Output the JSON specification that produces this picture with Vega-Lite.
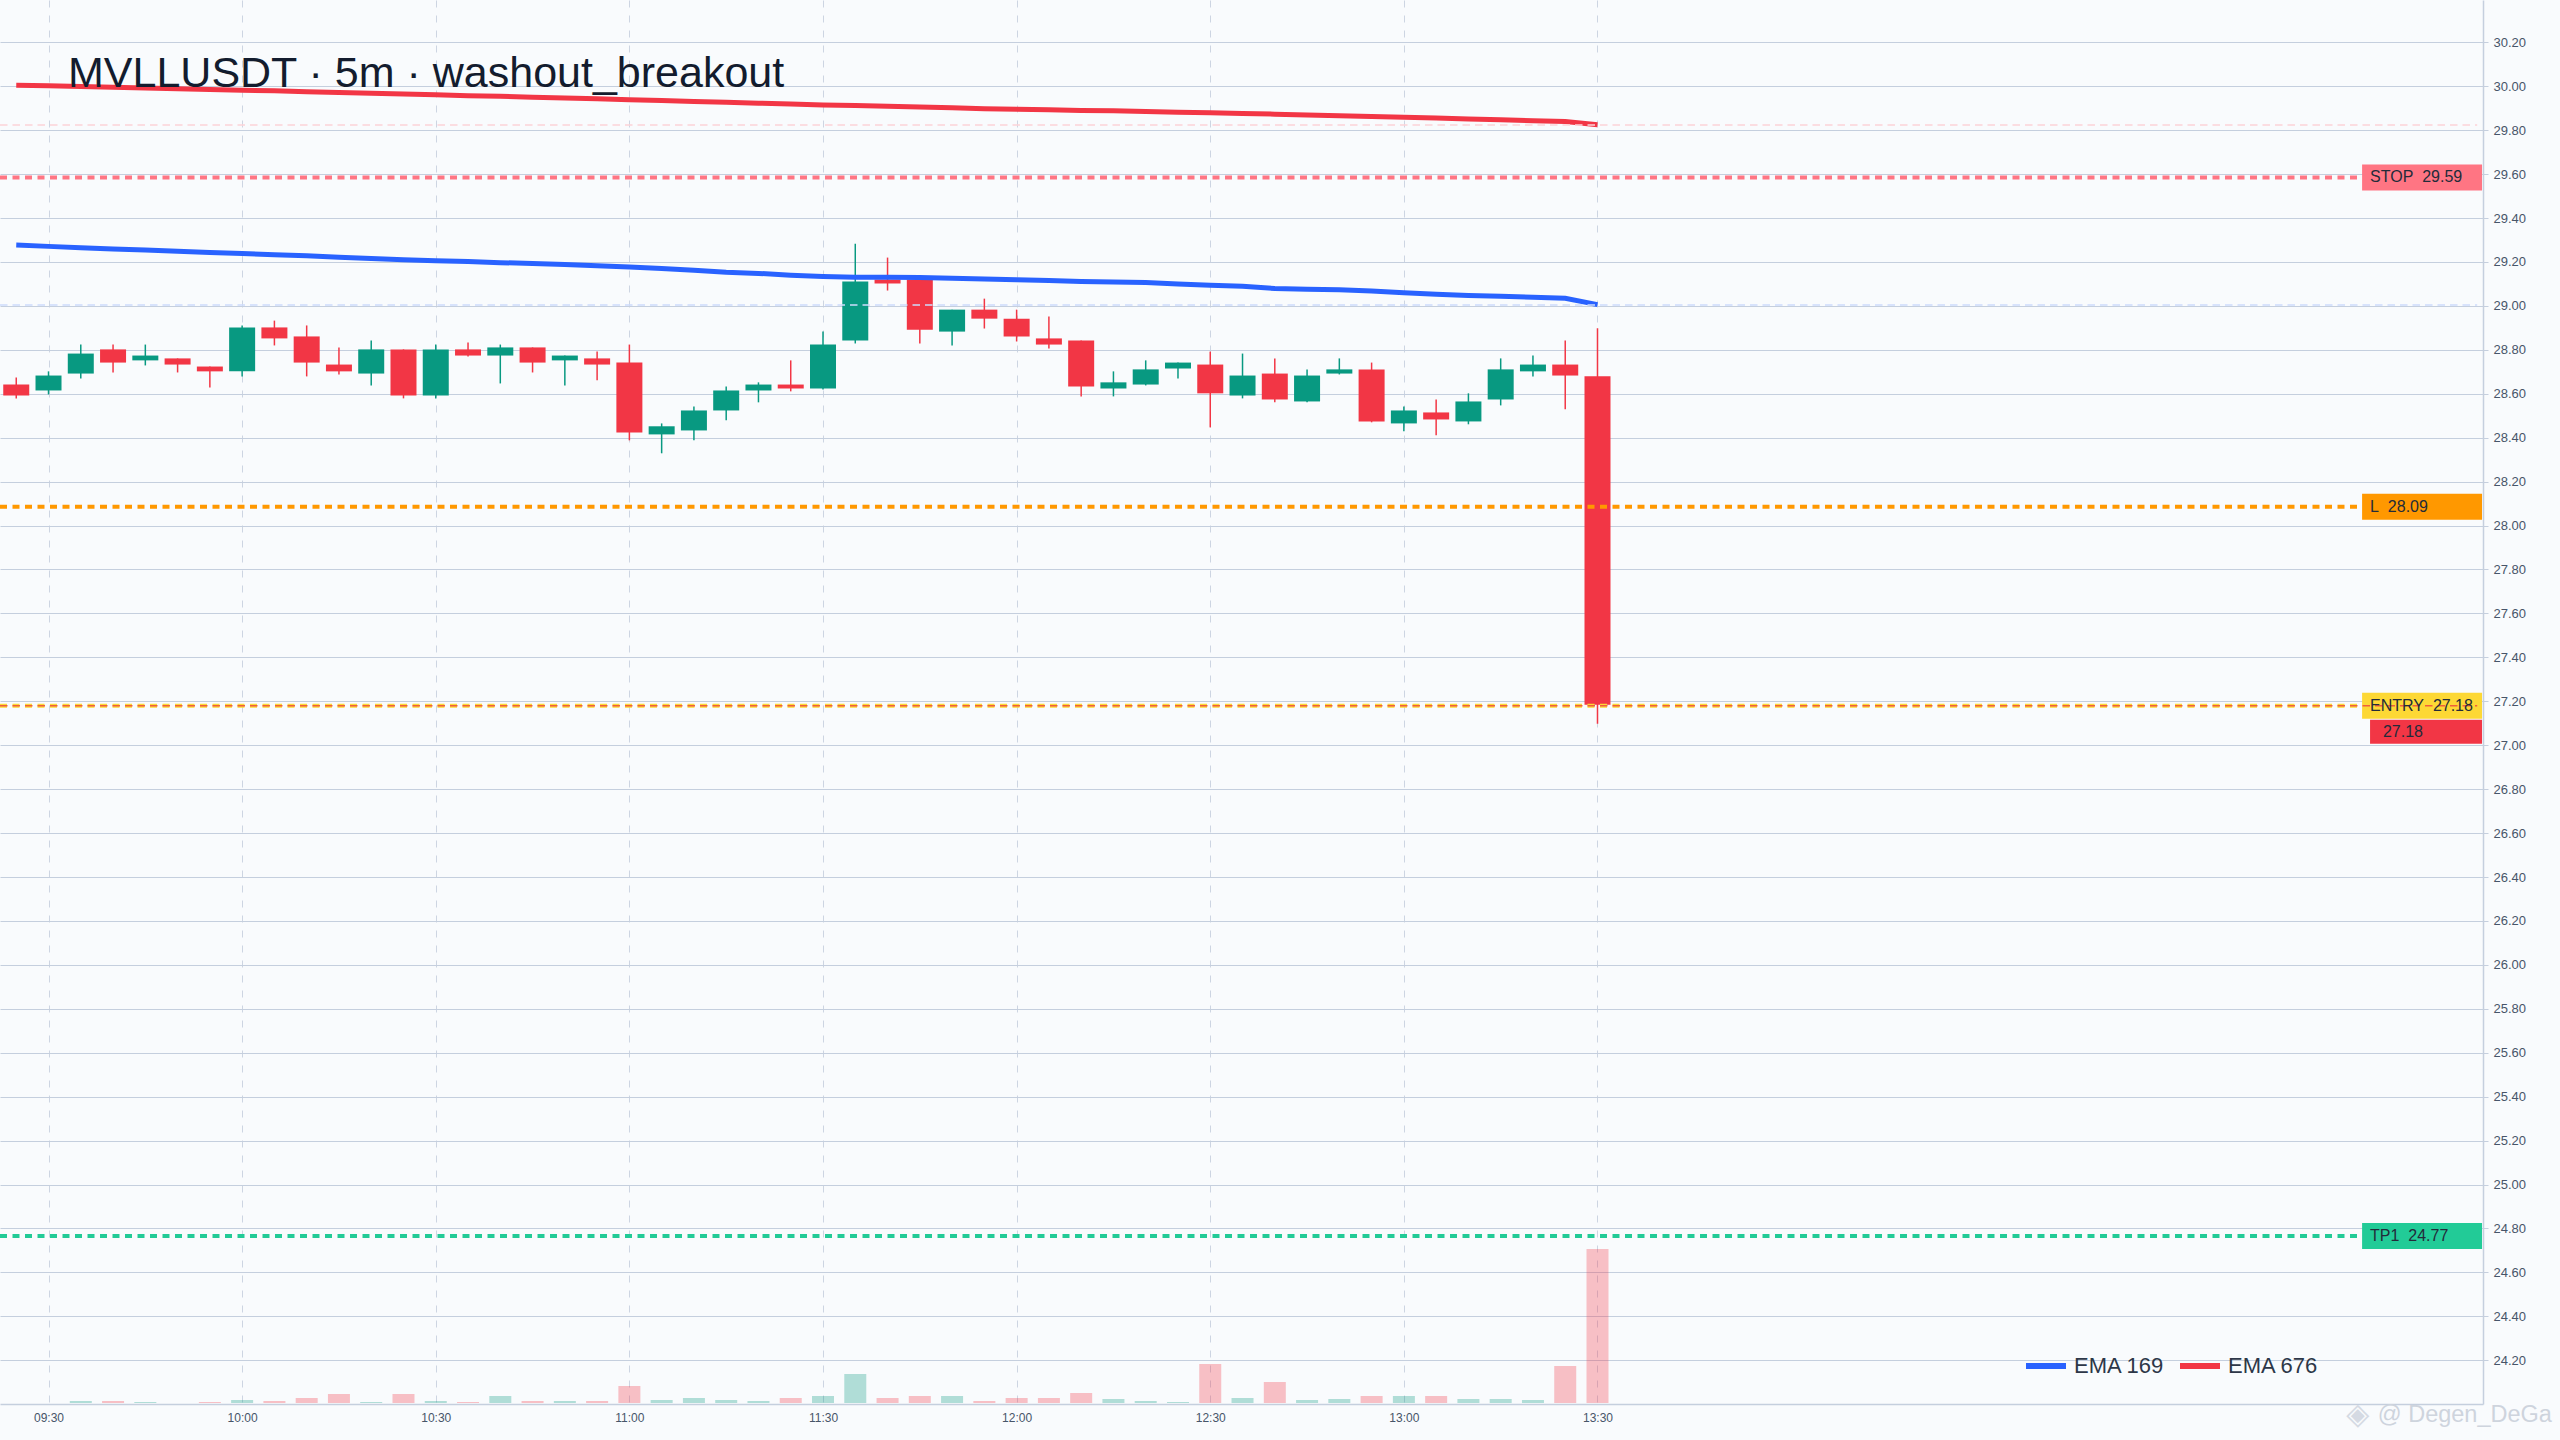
{
  "$schema": "https://vega.github.io/schema/vega-lite/v6.json",
  "width": 2483,
  "height": 1404,
  "autosize": "none",
  "padding": {"left": 0, "top": 0, "right": 77, "bottom": 36},
  "background": "#f9fbfd",
  "title": {"text": "MVLLUSDT · 5m · washout_breakout", "anchor": "start", "frame": "group", "orient": "top", "baseline": "alphabetic", "dx": 68, "offset": -130, "font": "Liberation Sans", "fontSize": 43, "fontWeight": "normal", "color": "#131c2e"},
  "datasets": {
    "candles": [
      {"t": "2025-01-01T09:25:00Z", "open": 28.642, "high": 28.674, "low": 28.579, "close": 28.592, "volume": 0},
      {"t": "2025-01-01T09:30:00Z", "open": 28.615, "high": 28.702, "low": 28.597, "close": 28.683, "volume": 0},
      {"t": "2025-01-01T09:35:00Z", "open": 28.692, "high": 28.824, "low": 28.670, "close": 28.783, "volume": 2},
      {"t": "2025-01-01T09:40:00Z", "open": 28.802, "high": 28.824, "low": 28.697, "close": 28.742, "volume": 2},
      {"t": "2025-01-01T09:45:00Z", "open": 28.752, "high": 28.824, "low": 28.729, "close": 28.774, "volume": 1},
      {"t": "2025-01-01T09:50:00Z", "open": 28.761, "high": 28.761, "low": 28.697, "close": 28.733, "volume": 0},
      {"t": "2025-01-01T09:55:00Z", "open": 28.724, "high": 28.724, "low": 28.629, "close": 28.702, "volume": 1},
      {"t": "2025-01-01T10:00:00Z", "open": 28.702, "high": 28.911, "low": 28.679, "close": 28.902, "volume": 3},
      {"t": "2025-01-01T10:05:00Z", "open": 28.902, "high": 28.933, "low": 28.820, "close": 28.852, "volume": 2},
      {"t": "2025-01-01T10:10:00Z", "open": 28.861, "high": 28.911, "low": 28.679, "close": 28.742, "volume": 5},
      {"t": "2025-01-01T10:15:00Z", "open": 28.733, "high": 28.811, "low": 28.688, "close": 28.702, "volume": 9},
      {"t": "2025-01-01T10:20:00Z", "open": 28.692, "high": 28.842, "low": 28.638, "close": 28.802, "volume": 1},
      {"t": "2025-01-01T10:25:00Z", "open": 28.802, "high": 28.802, "low": 28.579, "close": 28.592, "volume": 9},
      {"t": "2025-01-01T10:30:00Z", "open": 28.592, "high": 28.824, "low": 28.579, "close": 28.802, "volume": 2},
      {"t": "2025-01-01T10:35:00Z", "open": 28.802, "high": 28.833, "low": 28.770, "close": 28.774, "volume": 1},
      {"t": "2025-01-01T10:40:00Z", "open": 28.774, "high": 28.824, "low": 28.647, "close": 28.811, "volume": 7},
      {"t": "2025-01-01T10:45:00Z", "open": 28.811, "high": 28.811, "low": 28.697, "close": 28.742, "volume": 2},
      {"t": "2025-01-01T10:50:00Z", "open": 28.752, "high": 28.774, "low": 28.638, "close": 28.774, "volume": 2},
      {"t": "2025-01-01T10:55:00Z", "open": 28.761, "high": 28.792, "low": 28.661, "close": 28.733, "volume": 2},
      {"t": "2025-01-01T11:00:00Z", "open": 28.742, "high": 28.824, "low": 28.388, "close": 28.424, "volume": 17},
      {"t": "2025-01-01T11:05:00Z", "open": 28.415, "high": 28.465, "low": 28.329, "close": 28.452, "volume": 3},
      {"t": "2025-01-01T11:10:00Z", "open": 28.433, "high": 28.542, "low": 28.388, "close": 28.524, "volume": 5},
      {"t": "2025-01-01T11:15:00Z", "open": 28.524, "high": 28.633, "low": 28.479, "close": 28.615, "volume": 3},
      {"t": "2025-01-01T11:20:00Z", "open": 28.615, "high": 28.652, "low": 28.561, "close": 28.642, "volume": 2},
      {"t": "2025-01-01T11:25:00Z", "open": 28.642, "high": 28.752, "low": 28.611, "close": 28.624, "volume": 5},
      {"t": "2025-01-01T11:30:00Z", "open": 28.624, "high": 28.883, "low": 28.620, "close": 28.824, "volume": 7},
      {"t": "2025-01-01T11:35:00Z", "open": 28.842, "high": 29.283, "low": 28.829, "close": 29.111, "volume": 29},
      {"t": "2025-01-01T11:40:00Z", "open": 29.120, "high": 29.220, "low": 29.070, "close": 29.102, "volume": 5},
      {"t": "2025-01-01T11:45:00Z", "open": 29.120, "high": 29.120, "low": 28.829, "close": 28.892, "volume": 7},
      {"t": "2025-01-01T11:50:00Z", "open": 28.883, "high": 28.983, "low": 28.820, "close": 28.983, "volume": 7},
      {"t": "2025-01-01T11:55:00Z", "open": 28.983, "high": 29.033, "low": 28.897, "close": 28.942, "volume": 2},
      {"t": "2025-01-01T12:00:00Z", "open": 28.942, "high": 28.983, "low": 28.838, "close": 28.861, "volume": 5},
      {"t": "2025-01-01T12:05:00Z", "open": 28.852, "high": 28.952, "low": 28.806, "close": 28.824, "volume": 5},
      {"t": "2025-01-01T12:10:00Z", "open": 28.842, "high": 28.842, "low": 28.588, "close": 28.633, "volume": 10},
      {"t": "2025-01-01T12:15:00Z", "open": 28.624, "high": 28.702, "low": 28.588, "close": 28.652, "volume": 4},
      {"t": "2025-01-01T12:20:00Z", "open": 28.642, "high": 28.752, "low": 28.638, "close": 28.711, "volume": 2},
      {"t": "2025-01-01T12:25:00Z", "open": 28.715, "high": 28.742, "low": 28.670, "close": 28.742, "volume": 1},
      {"t": "2025-01-01T12:30:00Z", "open": 28.733, "high": 28.792, "low": 28.447, "close": 28.602, "volume": 39},
      {"t": "2025-01-01T12:35:00Z", "open": 28.592, "high": 28.783, "low": 28.579, "close": 28.683, "volume": 5},
      {"t": "2025-01-01T12:40:00Z", "open": 28.692, "high": 28.761, "low": 28.561, "close": 28.574, "volume": 21},
      {"t": "2025-01-01T12:45:00Z", "open": 28.565, "high": 28.711, "low": 28.561, "close": 28.683, "volume": 3},
      {"t": "2025-01-01T12:50:00Z", "open": 28.692, "high": 28.761, "low": 28.688, "close": 28.711, "volume": 4},
      {"t": "2025-01-01T12:55:00Z", "open": 28.711, "high": 28.742, "low": 28.470, "close": 28.474, "volume": 7},
      {"t": "2025-01-01T13:00:00Z", "open": 28.465, "high": 28.542, "low": 28.429, "close": 28.524, "volume": 7},
      {"t": "2025-01-01T13:05:00Z", "open": 28.515, "high": 28.574, "low": 28.411, "close": 28.483, "volume": 7},
      {"t": "2025-01-01T13:10:00Z", "open": 28.474, "high": 28.602, "low": 28.461, "close": 28.565, "volume": 4},
      {"t": "2025-01-01T13:15:00Z", "open": 28.574, "high": 28.761, "low": 28.547, "close": 28.711, "volume": 4},
      {"t": "2025-01-01T13:20:00Z", "open": 28.702, "high": 28.774, "low": 28.679, "close": 28.733, "volume": 3},
      {"t": "2025-01-01T13:25:00Z", "open": 28.733, "high": 28.842, "low": 28.529, "close": 28.683, "volume": 37},
      {"t": "2025-01-01T13:30:00Z", "open": 28.680, "high": 28.898, "low": 27.098, "close": 27.184, "volume": 154}
    ],
    "ema": [
      {"t": "2025-01-01T09:25:00Z", "series": "EMA 169", "value": 29.277},
      {"t": "2025-01-01T09:30:00Z", "series": "EMA 169", "value": 29.271},
      {"t": "2025-01-01T09:35:00Z", "series": "EMA 169", "value": 29.265},
      {"t": "2025-01-01T09:40:00Z", "series": "EMA 169", "value": 29.259},
      {"t": "2025-01-01T09:45:00Z", "series": "EMA 169", "value": 29.254},
      {"t": "2025-01-01T09:50:00Z", "series": "EMA 169", "value": 29.249},
      {"t": "2025-01-01T09:55:00Z", "series": "EMA 169", "value": 29.243},
      {"t": "2025-01-01T10:00:00Z", "series": "EMA 169", "value": 29.238},
      {"t": "2025-01-01T10:05:00Z", "series": "EMA 169", "value": 29.233},
      {"t": "2025-01-01T10:10:00Z", "series": "EMA 169", "value": 29.228},
      {"t": "2025-01-01T10:15:00Z", "series": "EMA 169", "value": 29.222},
      {"t": "2025-01-01T10:20:00Z", "series": "EMA 169", "value": 29.216},
      {"t": "2025-01-01T10:25:00Z", "series": "EMA 169", "value": 29.21},
      {"t": "2025-01-01T10:30:00Z", "series": "EMA 169", "value": 29.205},
      {"t": "2025-01-01T10:35:00Z", "series": "EMA 169", "value": 29.202},
      {"t": "2025-01-01T10:40:00Z", "series": "EMA 169", "value": 29.197},
      {"t": "2025-01-01T10:45:00Z", "series": "EMA 169", "value": 29.193},
      {"t": "2025-01-01T10:50:00Z", "series": "EMA 169", "value": 29.188},
      {"t": "2025-01-01T10:55:00Z", "series": "EMA 169", "value": 29.183},
      {"t": "2025-01-01T11:00:00Z", "series": "EMA 169", "value": 29.177},
      {"t": "2025-01-01T11:05:00Z", "series": "EMA 169", "value": 29.17},
      {"t": "2025-01-01T11:10:00Z", "series": "EMA 169", "value": 29.162},
      {"t": "2025-01-01T11:15:00Z", "series": "EMA 169", "value": 29.153},
      {"t": "2025-01-01T11:20:00Z", "series": "EMA 169", "value": 29.148},
      {"t": "2025-01-01T11:25:00Z", "series": "EMA 169", "value": 29.14},
      {"t": "2025-01-01T11:30:00Z", "series": "EMA 169", "value": 29.134},
      {"t": "2025-01-01T11:35:00Z", "series": "EMA 169", "value": 29.131},
      {"t": "2025-01-01T11:40:00Z", "series": "EMA 169", "value": 29.13},
      {"t": "2025-01-01T11:45:00Z", "series": "EMA 169", "value": 29.129},
      {"t": "2025-01-01T11:50:00Z", "series": "EMA 169", "value": 29.126},
      {"t": "2025-01-01T11:55:00Z", "series": "EMA 169", "value": 29.123},
      {"t": "2025-01-01T12:00:00Z", "series": "EMA 169", "value": 29.119},
      {"t": "2025-01-01T12:05:00Z", "series": "EMA 169", "value": 29.116},
      {"t": "2025-01-01T12:10:00Z", "series": "EMA 169", "value": 29.111},
      {"t": "2025-01-01T12:15:00Z", "series": "EMA 169", "value": 29.109},
      {"t": "2025-01-01T12:20:00Z", "series": "EMA 169", "value": 29.106},
      {"t": "2025-01-01T12:25:00Z", "series": "EMA 169", "value": 29.1},
      {"t": "2025-01-01T12:30:00Z", "series": "EMA 169", "value": 29.094},
      {"t": "2025-01-01T12:35:00Z", "series": "EMA 169", "value": 29.089},
      {"t": "2025-01-01T12:40:00Z", "series": "EMA 169", "value": 29.079},
      {"t": "2025-01-01T12:45:00Z", "series": "EMA 169", "value": 29.076},
      {"t": "2025-01-01T12:50:00Z", "series": "EMA 169", "value": 29.073},
      {"t": "2025-01-01T12:55:00Z", "series": "EMA 169", "value": 29.068},
      {"t": "2025-01-01T13:00:00Z", "series": "EMA 169", "value": 29.06},
      {"t": "2025-01-01T13:05:00Z", "series": "EMA 169", "value": 29.053},
      {"t": "2025-01-01T13:10:00Z", "series": "EMA 169", "value": 29.047},
      {"t": "2025-01-01T13:15:00Z", "series": "EMA 169", "value": 29.044},
      {"t": "2025-01-01T13:20:00Z", "series": "EMA 169", "value": 29.039},
      {"t": "2025-01-01T13:25:00Z", "series": "EMA 169", "value": 29.035},
      {"t": "2025-01-01T13:30:00Z", "series": "EMA 169", "value": 29.006},
      {"t": "2025-01-01T09:25:00Z", "series": "EMA 676", "value": 30.005},
      {"t": "2025-01-01T09:30:00Z", "series": "EMA 676", "value": 30.002},
      {"t": "2025-01-01T09:35:00Z", "series": "EMA 676", "value": 29.999},
      {"t": "2025-01-01T09:40:00Z", "series": "EMA 676", "value": 29.995},
      {"t": "2025-01-01T09:45:00Z", "series": "EMA 676", "value": 29.992},
      {"t": "2025-01-01T09:50:00Z", "series": "EMA 676", "value": 29.989},
      {"t": "2025-01-01T09:55:00Z", "series": "EMA 676", "value": 29.985},
      {"t": "2025-01-01T10:00:00Z", "series": "EMA 676", "value": 29.982},
      {"t": "2025-01-01T10:05:00Z", "series": "EMA 676", "value": 29.979},
      {"t": "2025-01-01T10:10:00Z", "series": "EMA 676", "value": 29.975},
      {"t": "2025-01-01T10:15:00Z", "series": "EMA 676", "value": 29.972},
      {"t": "2025-01-01T10:20:00Z", "series": "EMA 676", "value": 29.968},
      {"t": "2025-01-01T10:25:00Z", "series": "EMA 676", "value": 29.965},
      {"t": "2025-01-01T10:30:00Z", "series": "EMA 676", "value": 29.961},
      {"t": "2025-01-01T10:35:00Z", "series": "EMA 676", "value": 29.957},
      {"t": "2025-01-01T10:40:00Z", "series": "EMA 676", "value": 29.954},
      {"t": "2025-01-01T10:45:00Z", "series": "EMA 676", "value": 29.95},
      {"t": "2025-01-01T10:50:00Z", "series": "EMA 676", "value": 29.946},
      {"t": "2025-01-01T10:55:00Z", "series": "EMA 676", "value": 29.943},
      {"t": "2025-01-01T11:00:00Z", "series": "EMA 676", "value": 29.939},
      {"t": "2025-01-01T11:05:00Z", "series": "EMA 676", "value": 29.935},
      {"t": "2025-01-01T11:10:00Z", "series": "EMA 676", "value": 29.931},
      {"t": "2025-01-01T11:15:00Z", "series": "EMA 676", "value": 29.927},
      {"t": "2025-01-01T11:20:00Z", "series": "EMA 676", "value": 29.923},
      {"t": "2025-01-01T11:25:00Z", "series": "EMA 676", "value": 29.919},
      {"t": "2025-01-01T11:30:00Z", "series": "EMA 676", "value": 29.915},
      {"t": "2025-01-01T11:35:00Z", "series": "EMA 676", "value": 29.912},
      {"t": "2025-01-01T11:40:00Z", "series": "EMA 676", "value": 29.909},
      {"t": "2025-01-01T11:45:00Z", "series": "EMA 676", "value": 29.905},
      {"t": "2025-01-01T11:50:00Z", "series": "EMA 676", "value": 29.902},
      {"t": "2025-01-01T11:55:00Z", "series": "EMA 676", "value": 29.898},
      {"t": "2025-01-01T12:00:00Z", "series": "EMA 676", "value": 29.895},
      {"t": "2025-01-01T12:05:00Z", "series": "EMA 676", "value": 29.893},
      {"t": "2025-01-01T12:10:00Z", "series": "EMA 676", "value": 29.89},
      {"t": "2025-01-01T12:15:00Z", "series": "EMA 676", "value": 29.888},
      {"t": "2025-01-01T12:20:00Z", "series": "EMA 676", "value": 29.885},
      {"t": "2025-01-01T12:25:00Z", "series": "EMA 676", "value": 29.882},
      {"t": "2025-01-01T12:30:00Z", "series": "EMA 676", "value": 29.879},
      {"t": "2025-01-01T12:35:00Z", "series": "EMA 676", "value": 29.876},
      {"t": "2025-01-01T12:40:00Z", "series": "EMA 676", "value": 29.873},
      {"t": "2025-01-01T12:45:00Z", "series": "EMA 676", "value": 29.869},
      {"t": "2025-01-01T12:50:00Z", "series": "EMA 676", "value": 29.866},
      {"t": "2025-01-01T12:55:00Z", "series": "EMA 676", "value": 29.862},
      {"t": "2025-01-01T13:00:00Z", "series": "EMA 676", "value": 29.859},
      {"t": "2025-01-01T13:05:00Z", "series": "EMA 676", "value": 29.855},
      {"t": "2025-01-01T13:10:00Z", "series": "EMA 676", "value": 29.851},
      {"t": "2025-01-01T13:15:00Z", "series": "EMA 676", "value": 29.847},
      {"t": "2025-01-01T13:20:00Z", "series": "EMA 676", "value": 29.843},
      {"t": "2025-01-01T13:25:00Z", "series": "EMA 676", "value": 29.839},
      {"t": "2025-01-01T13:30:00Z", "series": "EMA 676", "value": 29.825}
    ],
    "levels": [
      {"name": "STOP", "price": 29.585, "label": "STOP\u00a0\u00a029.59"},
      {"name": "L", "price": 28.086, "label": "L\u00a0\u00a028.09"},
      {"name": "ENTRY", "price": 27.18, "label": "ENTRY\u00a0\u00a027.18"},
      {"name": "TP1", "price": 24.766, "label": "TP1\u00a0\u00a024.77"}
    ],
    "lastValues": [
      {"name": "EMA 169", "price": 29.004},
      {"name": "EMA 676", "price": 29.823},
      {"name": "Last", "price": 27.18}
    ],
    "lastLabel": [
      {"price": 27.061, "label": "27.18"}
    ],
    "watermark": [
      {"label": "@ Degen_DeGa"}
    ]
  },
  "layer": [
    {
      "layer": [
        {
          "data": {"name": "candles"},
          "mark": {"type": "bar", "size": 22, "opacity": 0.3},
          "encoding": {
            "x": {
              "field": "t", "type": "temporal", "title": null,
              "scale": {"type": "utc", "domain": [
                {"year": 2025, "month": 1, "date": 1, "hours": 9, "minutes": 22, "seconds": 29, "utc": true},
                {"year": 2025, "month": 1, "date": 1, "hours": 15, "minutes": 47, "seconds": 12, "utc": true}
              ]},
              "axis": {
                "format": "%H:%M", "ticks": false, "labelPadding": 8, "labelFontSize": 12, "labelFont": "Liberation Sans", "labelColor": "#475569",
                "domainColor": "#c5cfde", "domainWidth": 1.5, "gridColor": "#cdd5e2", "gridDash": [7, 8], "gridWidth": 1, "grid": true, "labelOverlap": false, "labelFlush": false,
                "values": [
                  {"year": 2025, "month": 1, "date": 1, "hours": 9, "minutes": 30, "utc": true},
                  {"year": 2025, "month": 1, "date": 1, "hours": 10, "minutes": 0, "utc": true},
                  {"year": 2025, "month": 1, "date": 1, "hours": 10, "minutes": 30, "utc": true},
                  {"year": 2025, "month": 1, "date": 1, "hours": 11, "minutes": 0, "utc": true},
                  {"year": 2025, "month": 1, "date": 1, "hours": 11, "minutes": 30, "utc": true},
                  {"year": 2025, "month": 1, "date": 1, "hours": 12, "minutes": 0, "utc": true},
                  {"year": 2025, "month": 1, "date": 1, "hours": 12, "minutes": 30, "utc": true},
                  {"year": 2025, "month": 1, "date": 1, "hours": 13, "minutes": 0, "utc": true},
                  {"year": 2025, "month": 1, "date": 1, "hours": 13, "minutes": 30, "utc": true}
                ]
              }
            },
            "y": {"field": "volume", "type": "quantitative", "axis": null, "scale": {"domain": [-1, 1403]}},
            "color": {"condition": {"test": "datum.close >= datum.open", "value": "#089981"}, "value": "#f23645"}
          }
        }
      ]
    },
    {
      "layer": [
        {
          "data": {"name": "candles"},
          "mark": {"type": "rule", "strokeWidth": 1.5},
          "encoding": {
            "x": {"field": "t", "type": "temporal"},
            "y": {
              "field": "low", "type": "quantitative", "title": null,
              "scale": {"domain": [24.001, 30.3926], "nice": false, "zero": false},
              "axis": {
                "orient": "right", "format": ".2f", "tickCount": 32, "tickSize": 5, "tickColor": "#c5cfde", "labelPadding": 5, "labelFontSize": 13, "labelFont": "Liberation Sans", "labelColor": "#475569",
                "domainColor": "#c5cfde", "domainWidth": 1.5, "grid": true, "gridColor": "#c5cfde", "gridWidth": 1.2, "labelOverlap": false, "labelFlush": false
              }
            },
            "y2": {"field": "high"},
            "color": {"condition": {"test": "datum.close >= datum.open", "value": "#089981"}, "value": "#f23645"}
          }
        },
        {
          "data": {"name": "candles"},
          "mark": {"type": "bar", "size": 26},
          "encoding": {
            "x": {"field": "t", "type": "temporal"},
            "y": {"field": "open", "type": "quantitative"},
            "y2": {"field": "close"},
            "color": {"condition": {"test": "datum.close >= datum.open", "value": "#089981"}, "value": "#f23645"}
          }
        },
        {
          "data": {"name": "ema"},
          "mark": {"type": "line", "strokeWidth": 5},
          "encoding": {
            "x": {"field": "t", "type": "temporal"},
            "y": {"field": "value", "type": "quantitative"},
            "color": {
              "field": "series", "type": "nominal",
              "scale": {"domain": ["EMA 169", "EMA 676"], "range": ["#2962ff", "#f23645"]},
              "legend": {"title": null, "orient": "none", "legendX": 2023, "legendY": 1343, "direction": "horizontal", "symbolType": "stroke", "symbolSize": 1600, "symbolStrokeWidth": 6, "labelFontSize": 22, "labelFont": "Liberation Sans", "labelColor": "#2d3748", "labelOffset": 5, "columnPadding": 3, "padding": 0}
            }
          }
        },
        {
          "data": {"name": "levels"},
          "mark": {"type": "rule", "strokeWidth": 4, "strokeDash": [7, 5.5]},
          "encoding": {
            "x": {"datum": {"year": 2025, "month": 1, "date": 1, "hours": 9, "minutes": 22, "seconds": 29, "utc": true}, "type": "temporal"},
            "x2": {"datum": {"year": 2025, "month": 1, "date": 1, "hours": 15, "minutes": 28, "seconds": 28, "utc": true}},
            "y": {"field": "price", "type": "quantitative"},
            "color": {"field": "name", "type": "nominal", "legend": null, "scale": {"domain": ["STOP", "L", "ENTRY", "TP1"], "range": ["#ff7583", "#ff9800", "#fdd835", "#22cb97"]}}
          }
        },
        {
          "data": {"name": "levels"},
          "mark": {"type": "bar", "size": 26, "orient": "horizontal"},
          "encoding": {
            "x": {"datum": {"year": 2025, "month": 1, "date": 1, "hours": 15, "minutes": 28, "seconds": 28, "utc": true}, "type": "temporal"},
            "x2": {"datum": {"year": 2025, "month": 1, "date": 1, "hours": 15, "minutes": 47, "seconds": 3, "utc": true}},
            "y": {"field": "price", "type": "quantitative"},
            "color": {"field": "name", "type": "nominal", "legend": null, "scale": {"domain": ["STOP", "L", "ENTRY", "TP1"], "range": ["#ff7583", "#ff9800", "#fdd835", "#22cb97"]}}
          }
        },
        {
          "data": {"name": "lastLabel"},
          "mark": {"type": "bar", "size": 24, "orient": "horizontal", "color": "#f23645"},
          "encoding": {
            "x": {"datum": {"year": 2025, "month": 1, "date": 1, "hours": 15, "minutes": 29, "seconds": 42, "utc": true}, "type": "temporal"},
            "x2": {"datum": {"year": 2025, "month": 1, "date": 1, "hours": 15, "minutes": 47, "seconds": 3, "utc": true}},
            "y": {"field": "price", "type": "quantitative"}
          }
        },
        {
          "data": {"name": "lastValues"},
          "mark": {"type": "rule", "strokeWidth": 1.5, "strokeDash": [7.5, 5]},
          "encoding": {
            "x": {"datum": {"year": 2025, "month": 1, "date": 1, "hours": 9, "minutes": 22, "seconds": 29, "utc": true}, "type": "temporal"},
            "x2": {"datum": {"year": 2025, "month": 1, "date": 1, "hours": 15, "minutes": 46, "seconds": 18, "utc": true}},
            "y": {"field": "price", "type": "quantitative"},
            "color": {"field": "name", "type": "nominal", "legend": null, "scale": {"domain": ["EMA 169", "EMA 676", "Last"], "range": ["#cddbfb", "#fbd3d8", "#f0603c"]}}
          }
        },
        {
          "data": {"name": "levels"},
          "mark": {"type": "text", "align": "left", "baseline": "middle", "font": "Liberation Sans", "fontSize": 16, "color": "#232b3a"},
          "encoding": {
            "x": {"datum": {"year": 2025, "month": 1, "date": 1, "hours": 15, "minutes": 29, "seconds": 42, "utc": true}, "type": "temporal"},
            "y": {"field": "price", "type": "quantitative"},
            "text": {"field": "label"}
          }
        },
        {
          "data": {"name": "lastLabel"},
          "mark": {"type": "text", "align": "left", "baseline": "middle", "font": "Liberation Sans", "fontSize": 16, "color": "#232b3a"},
          "encoding": {
            "x": {"datum": {"year": 2025, "month": 1, "date": 1, "hours": 15, "minutes": 31, "seconds": 42, "utc": true}, "type": "temporal"},
            "y": {"field": "price", "type": "quantitative"},
            "text": {"field": "label"}
          }
        },
        {
          "data": {"name": "watermark"},
          "mark": {"type": "text", "align": "left", "baseline": "middle", "font": "Liberation Sans", "fontSize": 23.5, "color": "#ced4dd"},
          "encoding": {
            "x": {"datum": {"year": 2025, "month": 1, "date": 1, "hours": 15, "minutes": 30, "seconds": 54, "utc": true}, "type": "temporal"},
            "y": {"datum": 23.951, "type": "quantitative"},
            "text": {"field": "label"}
          }
        },
        {
          "data": {"name": "watermark"},
          "mark": {"type": "text", "align": "center", "baseline": "middle", "font": "DejaVu Sans", "fontSize": 30, "color": "#d5dae3", "text": "◈"},
          "encoding": {
            "x": {"datum": {"year": 2025, "month": 1, "date": 1, "hours": 15, "minutes": 27, "seconds": 48, "utc": true}, "type": "temporal"},
            "y": {"datum": 23.951, "type": "quantitative"}
          }
        }
      ],
      "resolve": {"scale": {"color": "independent"}}
    }
  ],
  "resolve": {"scale": {"y": "independent"}},
  "config": {"view": {"stroke": null}, "scale": {"continuousPadding": 0}}
}
